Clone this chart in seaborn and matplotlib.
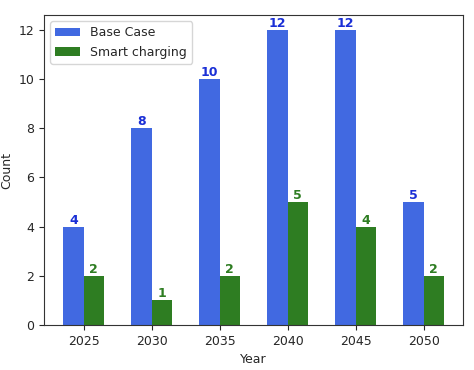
import pandas as pd
import matplotlib
matplotlib.use("Agg")
import matplotlib.pyplot as plt
import seaborn as sns

years = ["2025", "2030", "2035", "2040", "2045", "2050"]
base_case = [4, 8, 10, 12, 12, 5]
smart_charging = [2, 1, 2, 5, 4, 2]

df = pd.DataFrame({
    "Year": years * 2,
    "Count": base_case + smart_charging,
    "Scenario": ["Base Case"] * len(years) + ["Smart charging"] * len(years),
})

blue = "#4169E1"
green = "#2e7d22"
label_colors = {"Base Case": "#1a2fd6", "Smart charging": green}

sns.set_style("ticks")
plt.rcParams["font.family"] = ["DejaVu Sans"]

fig = plt.figure(figsize=(4.74, 3.70), dpi=100)
ax = fig.add_axes([0.093, 0.122, 0.884, 0.837])
sns.barplot(data=df, x="Year", y="Count", hue="Scenario",
            palette=[blue, green], width=0.6, gap=0, saturation=1,
            linewidth=0, edgecolor="none", ax=ax)

for cont, name in zip(ax.containers, ["Base Case", "Smart charging"]):
    ax.bar_label(cont, fmt="%d", color=label_colors[name], fontweight="bold",
                 fontsize=9, padding=0)

ax.set_xlim(-0.58, 5.58)
ax.set_ylim(0, 12.6)
ax.set_xlabel("Year", fontsize=9)
ax.set_ylabel("Count", fontsize=9)
ax.tick_params(labelsize=9)
ax.legend(loc="upper left", fontsize=9, title=None)
for s in ax.spines.values():
    s.set_visible(True)
    s.set_color("#333333")

fig.savefig("out.png", dpi=100)
